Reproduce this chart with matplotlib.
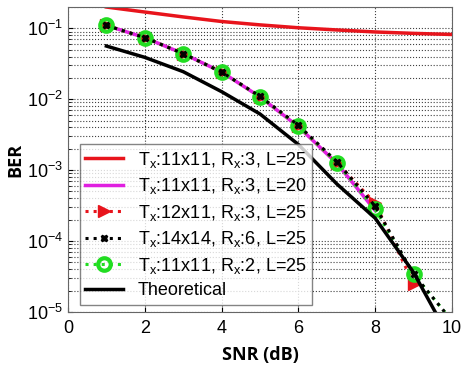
import matplotlib
matplotlib.use("Agg")
import matplotlib.pyplot as plt
import numpy as np

snr = [1, 2, 3, 4, 5, 6, 7, 8, 9, 10]
ber_11x11_r3_l25 = [0.20, 0.17, 0.145, 0.125, 0.112, 0.102, 0.095, 0.089, 0.085, 0.082]
snr_l20 = [1, 2, 3, 4, 5, 6, 7, 8]
ber_11x11_r3_l20 = [0.11, 0.074, 0.044, 0.0242, 0.0108, 0.0041, 0.00125, 0.00027]
snr_9 = [1, 2, 3, 4, 5, 6, 7, 8, 9]
ber_12x11_r3_l25 = [0.11, 0.074, 0.044, 0.0242, 0.0109, 0.0042, 0.00128, 0.00034, 2.5e-5]
ber_14x14_r6_l25 = [0.11, 0.074, 0.044, 0.0242, 0.0110, 0.0043, 0.00132, 0.00031, 3.4e-5, 7.5e-6]
ber_11x11_r2_l25 = [0.11, 0.074, 0.044, 0.0242, 0.0109, 0.0042, 0.00128, 0.00028, 3.4e-5, 7.5e-6]
ber_theory = [0.0563, 0.039, 0.0245, 0.0128, 0.0062, 0.0023, 0.00064, 0.00021, 3.6e-5, 3.7e-6]

labels = [r"T$_x$:11x11, R$_x$:3, L=25",
          r"T$_x$:11x11, R$_x$:3, L=20",
          r"T$_x$:12x11, R$_x$:3, L=25",
          r"T$_x$:14x14, R$_x$:6, L=25",
          r"T$_x$:11x11, R$_x$:2, L=25",
          "Theoretical"]

plt.rcParams['font.family'] = ['Liberation Sans', 'DejaVu Sans']
plt.rcParams['mathtext.fontset'] = 'custom'
plt.rcParams['mathtext.rm'] = 'Liberation Sans'
plt.rcParams['mathtext.it'] = 'Liberation Sans'

fig = plt.figure(figsize=(4.74, 3.70), dpi=100)
ax = fig.add_axes([0.1435, 0.157, 0.81, 0.824])

ax.plot(snr, ber_11x11_r3_l25, color='#e8141c', lw=2.5, label=labels[0])
ax.plot(snr_l20, ber_11x11_r3_l20, color='#e020e0', lw=2.5, label=labels[1])
ax.plot(snr_9, ber_12x11_r3_l25, color='#e8141c', lw=2.2, ls=':', marker='>', ms=8,
        mfc='#e8141c', mec='#e8141c', label=labels[2])
ax.plot(snr, ber_11x11_r2_l25, color='#22dd22', lw=2.2, ls=':', marker='o', ms=9,
        mfc='none', mec='#22dd22', mew=3, label=labels[4])
ax.plot(snr, ber_14x14_r6_l25, color='black', lw=2.2, ls=':', marker='X', ms=5,
        mfc='black', mec='black', label=labels[3])
ax.plot(snr, ber_theory, color='black', lw=2.5, label=labels[5])

ax.set_yscale('log')
ax.set_xlim(0, 10)
ax.set_ylim(1e-5, 0.2)
ax.set_xticks([0, 2, 4, 6, 8, 10])
ax.grid(True, which='major', ls=':', color='0.25', lw=0.8)
ax.grid(True, which='minor', axis='y', ls=':', color='0.25', lw=0.8)
ax.tick_params(which='both', direction='in', labelsize=13, top=False, right=False)
ax.tick_params(axis='x', pad=6)
for s in ax.spines.values():
    s.set_color('0.4')

ax.set_xlabel('SNR (dB)', fontsize=13, fontweight='bold', family='Open Sans', labelpad=6)
ax.set_ylabel('BER', fontsize=13, fontweight='bold', family='Open Sans', labelpad=2)

h, l = ax.get_legend_handles_labels()
order = [0, 1, 2, 4, 3, 5]
leg = ax.legend([h[i] for i in order], [l[i] for i in order], loc='lower left',
                bbox_to_anchor=(0.022, 0.012), fontsize=13, frameon=True, fancybox=False,
                edgecolor='0.4', handlelength=2.1, handletextpad=0.8, labelspacing=0.36,
                borderpad=0.3, borderaxespad=0.2)
leg.get_frame().set_linewidth(1.0)

fig.savefig('out.png', dpi=100)
